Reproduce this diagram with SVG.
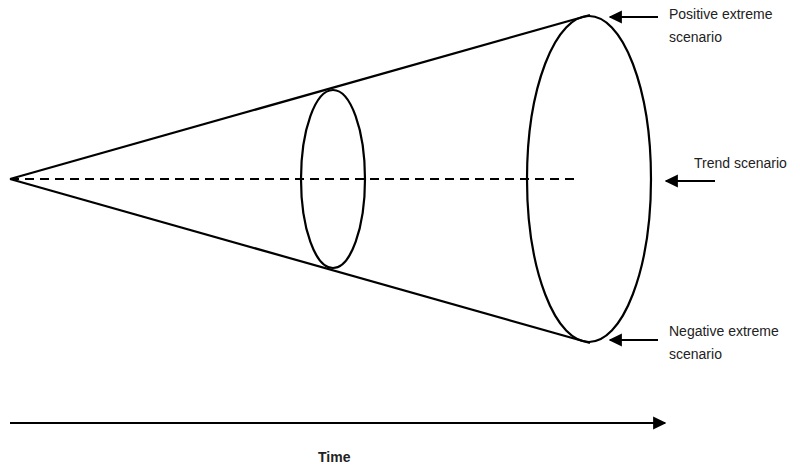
<svg xmlns="http://www.w3.org/2000/svg" width="800" height="471" viewBox="0 0 800 471">
<style>
.ln{stroke:#000;stroke-width:2.2;fill:none}
.t{font-family:"Liberation Sans",Arial,sans-serif;font-size:14px;fill:#222}
</style>
<defs>
<marker id="ah" viewBox="0 0 10 10" refX="9" refY="5" markerWidth="6" markerHeight="6" orient="auto" markerUnits="strokeWidth">
<path d="M0,0 L10,5 L0,10 z" fill="#000"/>
</marker>
</defs>
<rect width="800" height="471" fill="#fff"/>
<g id="cone">
<line class="ln" x1="10" y1="179" x2="590" y2="15"/>
<line class="ln" x1="10" y1="179" x2="590" y2="343"/>
<line class="ln" x1="10" y1="179" x2="578" y2="179" stroke-dasharray="9,6"/>
</g>
<g id="small-ellipse"><ellipse class="ln" cx="333" cy="179" rx="32" ry="89"/></g>
<g id="large-ellipse"><ellipse class="ln" cx="589" cy="179" rx="62" ry="163"/></g>
<g id="connectors">
<line class="ln" x1="658" y1="17" x2="610" y2="17" marker-end="url(#ah)"/>
<line class="ln" x1="715" y1="181" x2="666" y2="181" marker-end="url(#ah)"/>
<line class="ln" x1="658" y1="340" x2="610" y2="340" marker-end="url(#ah)"/>
<line class="ln" x1="10" y1="423" x2="665" y2="423" stroke-width="2.5" marker-end="url(#ah)"/>
</g>
<g id="labels">
<text class="t" x="669" y="19">Positive extreme</text>
<text class="t" x="669" y="42">scenario</text>
<text class="t" x="694" y="168">Trend scenario</text>
<text class="t" x="669" y="336">Negative extreme</text>
<text class="t" x="669" y="359">scenario</text>
<text class="t" x="318" y="462" font-weight="bold" font-size="15">Time</text>
</g>
</svg>
